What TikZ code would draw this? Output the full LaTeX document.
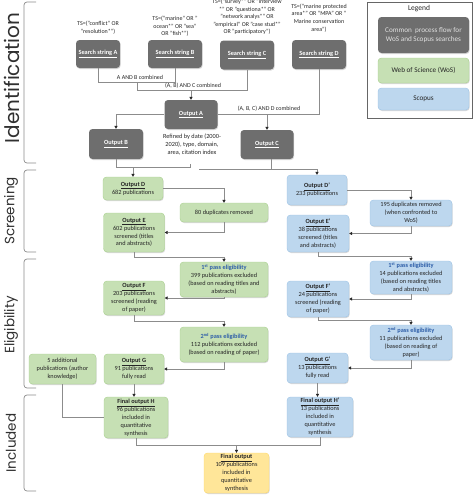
\documentclass[tikz,border=0pt]{standalone}
\usepackage{fontspec}
\setmainfont{Carlito}
\newfontfamily\labfont{Poppins}
\usetikzlibrary{arrows.meta,shadows}
\definecolor{gfill}{HTML}{6E6E6E}
\definecolor{wosfill}{HTML}{C6E0B4}
\definecolor{wosdraw}{HTML}{A9D18E}
\definecolor{scofill}{HTML}{BDD7EE}
\definecolor{scodraw}{HTML}{9DC3E6}
\definecolor{yelfill}{HTML}{FFE699}
\definecolor{yeldraw}{HTML}{FFD966}
\definecolor{txt}{HTML}{262626}
\definecolor{lgray}{HTML}{8C8C8C}
\definecolor{passblue}{HTML}{2E5EA8}
\definecolor{labc}{HTML}{303030}
\begin{document}
\begin{tikzpicture}[x=1pt,y=-1pt,
  base/.style={rounded corners=3.5pt, inner sep=0pt, align=center,
    font=\fontsize{6.3}{7.9}\selectfont,
    drop shadow={shadow xshift=0.7pt, shadow yshift=-1pt, opacity=0.3}},
  graybox/.style={base, fill=gfill, text=white},
  greenbox/.style={base, fill=wosfill, draw=wosdraw, line width=0.4pt, text=txt},
  bluebox/.style={base, fill=scofill, draw=scodraw, line width=0.4pt, text=txt},
  yellowbox/.style={base, fill=yelfill, draw=yeldraw, line width=0.4pt, text=txt},
  ts/.style={inner sep=0pt, align=center, text=txt, font=\fontsize{6}{7.6}\selectfont},
  lbl/.style={inner sep=0pt, align=center, text=txt, font=\fontsize{6}{7.6}\selectfont},
  conn/.style={draw=lgray, line width=0.7pt},
  arr/.style={conn, -{Triangle[length=3pt,width=3.2pt,color=black!85]}},
  brk/.style={draw=lgray, line width=0.7pt, rounded corners=3pt},
  sect/.style={rotate=90, inner sep=0pt, text=labc}
]
\useasboundingbox (0,0) rectangle (474,498);

% ---- section labels and brackets
\node[sect, font=\labfont\fontsize{20}{20}\selectfont] (lid) at (12,78) {Identification};
\node[sect, font=\labfont\fontsize{13.5}{13.5}\selectfont] (lsc) at (11,211) {Screening};
\node[sect, font=\labfont\fontsize{13.5}{13.5}\selectfont] (lel) at (11,325) {Eligibility};
\node[sect, font=\labfont\fontsize{13.5}{13.5}\selectfont] (lin) at (11,443) {Included};
\draw[brk] (36,2) -- (24,2) -- (24,163) -- (36,163);
\draw[brk] (36,170) -- (24,170) -- (24,252) -- (36,252);
\draw[brk] (36,259) -- (24,259) -- (24,388) -- (36,388);
\draw[brk] (36,395) -- (24,395) -- (24,491) -- (36,491);

% ---- legend
\node[draw=black!60, line width=0.6pt, minimum width=105pt, minimum height=116pt, inner sep=0pt] (leg) at (420,60) {};
\node[inner sep=0pt, text=txt, font=\fontsize{7.5}{9}\selectfont] (legt) at (419,9) {Legend};
\node[graybox, minimum width=91pt, minimum height=36pt, font=\fontsize{7.2}{9.5}\selectfont, text=white!88!black] (lgc) at (423.5,35) {Common\ \ process flow for\\WoS and Scopus searches};
\node[greenbox, minimum width=91pt, minimum height=25pt, font=\fontsize{7.2}{9.5}\selectfont] (lgw) at (423.5,70.5) {Web of Science (WoS)};
\node[bluebox, minimum width=91pt, minimum height=22pt, font=\fontsize{7.2}{9.5}\selectfont] (lgs) at (423.5,99) {Scopus};

% ---- identification
\node[ts] (tsa) at (98,28) {TS=("conflict" OR\\"resolution*")};
\node[ts] (tsb) at (175,26.5) {TS=("marine" OR "\\ocean*" OR "sea"\\OR "fish*")};
\node[ts] (tsc) at (247,17) {TS=("survey*" OR "interview\\*" OR "questiona*" OR\\"network analys*" OR\\"empirical" OR "case stud*"\\OR "participatory")};
\node[ts] (tsd) at (319,18) {TS=("marine protected\\area*" OR "MPA" OR "\\Marine conservation\\area")};

\node[graybox, minimum width=44pt, minimum height=28pt] (sa) at (98,54) {\textbf{\underline{Search string A}}};
\node[graybox, minimum width=54pt, minimum height=28pt] (sb) at (175,54) {\textbf{\underline{Search string B}}};
\node[graybox, minimum width=54pt, minimum height=29pt] (sc) at (247,55) {\textbf{\underline{Search string C}}};
\node[graybox, minimum width=54pt, minimum height=29pt] (sd) at (319,54.5) {\textbf{\underline{Search string D}}};

\node[graybox, minimum width=53pt, minimum height=29pt] (oa) at (191,114.5) {\textbf{\underline{Output A}}};
\node[graybox, minimum width=54pt, minimum height=30pt] (ob) at (116,144) {\textbf{\underline{Output B}}};
\node[graybox, minimum width=53pt, minimum height=29pt] (oc) at (267,144.5) {\textbf{\underline{Output C}}};
\node[lbl, font=\fontsize{6.3}{8}\selectfont] (ref) at (192,145) {Refined by date (2000-\\2020), type, domain,\\area, citation index};

\coordinate (ab) at (137,82);
\coordinate (abc) at (137,90);
\draw[conn] (sa.south) -- (sa.south |- ab) -- (sb.south |- ab) -- (sb.south);
\node[lbl] (lab) at (140,77.5) {A AND B combined};
\draw[conn] (ab) -- (abc) -- (sc.south |- abc) -- (sc.south);
\node[lbl] (labc) at (193,86) {(A, B) AND C combined};
\draw[arr] (oa.north |- abc) -- (oa.north);
\draw[conn] (sd.south) |- (oa.east);
\node[lbl] (labcd) at (269,108.5) {(A, B, C) AND D combined};
\draw[arr] (oc.north |- oa.east) -- (oc.north);
\draw[arr] (oa.west) -| (ob.north);

% ---- WoS column
\node[greenbox, minimum width=60pt, minimum height=23pt] (od) at (133,188.5) {\textbf{\underline{Output D}}\\682 publications};
\node[greenbox, minimum width=88pt, minimum height=19pt] (d80) at (224,212.5) {80 duplicates removed};
\node[greenbox, minimum width=61pt, minimum height=39pt] (oe) at (134,232.5) {\textbf{\underline{Output E}}\\602 publications\\screened (titles\\and abstracts)};
\node[greenbox, minimum width=88pt, minimum height=35pt] (p1) at (224,279.5) {{\color{passblue}\textbf{1\textsuperscript{st} pass eligibility}}\\399 publications excluded\\(based on reading titles and\\abstracts)};
\node[greenbox, minimum width=61pt, minimum height=34pt] (of) at (134,298) {\textbf{\underline{Output F}}\\203 publications\\screened (reading\\of paper)};
\node[greenbox, minimum width=88pt, minimum height=35pt] (p2) at (224,344.5) {{\color{passblue}\textbf{2\textsuperscript{nd} pass eligibility}}\\112 publications excluded\\(based on reading of paper)};
\node[greenbox, minimum width=60pt, minimum height=30pt] (og) at (134,369) {\textbf{\underline{Output G}}\\91 publications\\fully read};
\node[greenbox, minimum width=67pt, minimum height=30pt] (ad5) at (62.5,369) {5 additional\\publications (author\\knowledge)};
\node[greenbox, minimum width=64pt, minimum height=41pt] (oh) at (136,417.5) {\textbf{\underline{Final output H}}\\96 publications\\included in\\quantitative\\synthesis};

% ---- Scopus column
\node[bluebox, minimum width=60pt, minimum height=30pt] (odp) at (317,190) {\textbf{\underline{Output D'}}\\233 publications};
\node[bluebox, minimum width=82pt, minimum height=26pt] (d195) at (411,213) {195 duplicates removed\\(when confronted to\\WoS)};
\node[bluebox, minimum width=62pt, minimum height=37pt] (oep) at (318,233.5) {\textbf{\underline{Output E'}}\\38 publications\\screened (titles\\and abstracts)};
\node[bluebox, minimum width=82pt, minimum height=33pt] (p1p) at (411,277.5) {{\color{passblue}\textbf{1\textsuperscript{st} pass eligibility}}\\14 publications excluded\\(based on reading titles\\and abstracts)};
\node[bluebox, minimum width=62pt, minimum height=36pt] (ofp) at (318,299) {\textbf{\underline{Output F'}}\\24 publications\\screened (reading\\of paper)};
\node[bluebox, minimum width=82pt, minimum height=35pt] (p2p) at (411,342.5) {{\color{passblue}\textbf{2\textsuperscript{nd} pass eligibility}}\\11 publications excluded\\(based on reading of\\paper)};
\node[bluebox, minimum width=61pt, minimum height=30pt] (ogp) at (317.5,368) {\textbf{\underline{Output G'}}\\13 publications\\fully read};
\node[bluebox, minimum width=66pt, minimum height=40pt] (ohp) at (320,417) {\textbf{\underline{Final output H'}}\\13 publications\\included in\\quantitative\\synthesis};

\node[yellowbox, minimum width=65pt, minimum height=40pt] (fin) at (236.5,473) {\textbf{\underline{Final output}}\\109 publications\\included in\\quantitative\\synthesis};

% ---- B/C to D/D'
\draw[conn] (ob.south) -- (ob.south |- 0,167) -- (190,167) -- (190,164);
\draw[arr] (od.north |- 0,167) -- (od.north);
\draw[conn] ([xshift=4pt]oc.south) -- ([xshift=4pt]oc.south |- 0,169);
\draw[arr] (199,169) -- (odp.north |- 0,169) -- (odp.north);

% ---- WoS connectors
\draw[arr] (od.east) -| (d80.north);
\draw[arr] (d80.south) |- (oe.east);
\draw[arr] (oe.south) -- (oe.south |- 0,257) -| (p1.north);
\draw[arr] (p1.south) |- (of.east);
\draw[arr] (of.south) -- (of.south |- 0,321) -| (p2.north);
\draw[arr] (p2.south) |- (og.east);
\draw[arr] (og.south) -- (oh.north -| og.south);
\draw[conn] (ad5.south) |- (oh.west);

% ---- Scopus connectors
\draw[arr] (odp.east) -| (d195.north);
\draw[arr] (d195.south) |- (oep.east);
\draw[arr] (oep.south) -- (oep.south |- 0,256) -| (p1p.north);
\draw[arr] (p1p.south) |- (ofp.east);
\draw[arr] (ofp.south) -- (ofp.south |- 0,320.5) -| (p2p.north);
\draw[arr] (p2p.south) |- (ogp.east);
\draw[arr] (ogp.south) -- (ohp.north -| ogp.south);

% ---- final
\draw[conn] (oh.south) -- (oh.south |- 0,445) -- (ohp.south |- 0,445) -- (ohp.south);
\draw[arr] (fin.north |- 0,445) -- (fin.north);
\end{tikzpicture}
\end{document}
